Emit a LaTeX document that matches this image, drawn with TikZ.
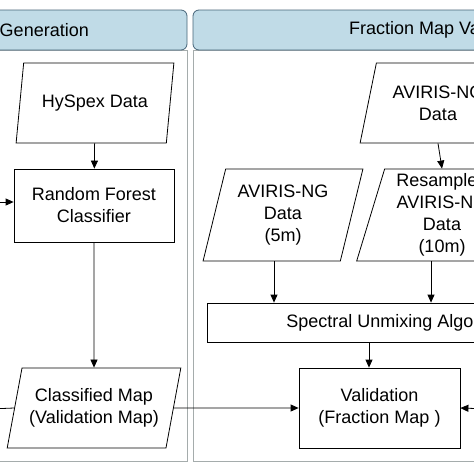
\documentclass[tikz,border=0pt]{standalone}
\usepackage{fontspec}
\setmainfont{Liberation Sans}
\usetikzlibrary{arrows.meta,positioning,calc,shapes.geometric}
\definecolor{headfill}{RGB}{192,219,231}
\definecolor{headline}{RGB}{70,100,120}
\definecolor{laneline}{RGB}{165,172,172}
\begin{document}
\begin{tikzpicture}[x=1pt,y=-1pt,
    every node/.style={font=\fontsize{18}{22}\selectfont, align=center},
    databox/.style={draw, thick, trapezium, trapezium stretches=true,
      trapezium left angle=71, trapezium right angle=109, inner sep=0pt},
    procbox/.style={draw, thick, rectangle, inner sep=0pt},
    flow/.style={thick, -{Triangle[length=8pt,width=7pt]}},
    lane/.style={draw=laneline, thick},
    header/.style={draw=headline, thick, fill=headfill, rounded corners=6pt}]
    \useasboundingbox (0,0) rectangle (474,474);
    \clip (0,0) rectangle (474,474);

    % lanes
    \draw[lane] (-30,50) rectangle (187,461);
    \draw[lane] (193,50) rectangle (720,461);
    \draw[header] (-30,10) rectangle (187,50);
    \draw[header] (193,10) rectangle (720,50);
    \node[anchor=east, inner sep=0pt] (gentitle) at (89,30) {Generation};
    \node[anchor=west, inner sep=0pt] (fractitle) at (349,30) {Fraction Map Validation};

    % left lane
    \node[databox, minimum width=158, minimum height=80] (hyspex) at (95,103) {HySpex Data};
    \node[procbox, minimum width=160, minimum height=73] (rf) at (94,205.5) {Random Forest\\Classifier};
    \node[databox, minimum width=174, minimum height=80] (cmap) at (94,408) {Classified Map\\(Validation Map)};

    % right lane
    \node[databox, minimum width=156, minimum height=80] (avtop) at (438,103) {AVIRIS-NG\\Data};
    \node[databox, minimum width=160, minimum height=92, trapezium left angle=73.5,
      trapezium right angle=106.5] (av5) at (283,215) {AVIRIS-NG\\Data\\(5m)};
    \node[databox, minimum width=171, minimum height=92, trapezium left angle=75,
      trapezium right angle=105] (av10) at (442,215) {Resampled\\AVIRIS-NG\\Data\\(10m)};
    \node[procbox, minimum width=386, minimum height=39] (sua) at (400,322.5) {Spectral Unmixing Algorithm};
    \node[procbox, minimum width=161, minimum height=80] (val) at (379.5,408) {Validation\\(Fraction Map )};

    % loose ends
    \coordinate (lin) at (-10,202);
    \coordinate (lout) at (-10,409);
    \coordinate (rin) at (490,409);

    % connectors
    \draw[flow] (hyspex) -- (rf);
    \draw[flow] (lin) -- (lin -| rf.west);
    \draw[flow] (rf) -- (cmap);
    \draw[thick] (lout) -- (cmap.west);
    \draw[flow] (cmap.east) -- (val.west);
    \draw[flow] (avtop.south) -- (av10.north);
    \draw[flow] ([xshift=-9pt]av5.south) -- ([xshift=-9pt]av5.south |- sua.north);
    \draw[flow] ([xshift=-11pt]av10.south) -- ([xshift=-11pt]av10.south |- sua.north);
    \draw[flow] ([xshift=-10.5pt]val.north |- sua.south) -- ([xshift=-10.5pt]val.north);
    \draw[flow] (rin) -- (val.east);
  \end{tikzpicture}
\end{document}
